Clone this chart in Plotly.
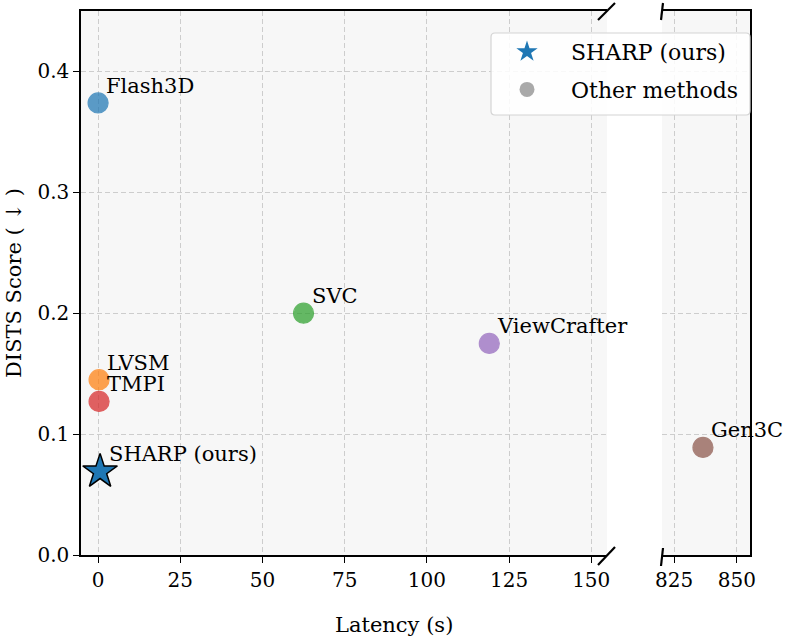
import plotly.graph_objects as go

# ---- data ----
methods = ["Flash3D", "LVSM", "SVC", "TMPI", "ViewCrafter", "Gen3C"]
latency = [0.0, 0.3, 62.5, 0.3, 119.0, 836.5]
dists = [0.374, 0.145, 0.200, 0.127, 0.175, 0.089]
ours_name = "SHARP (ours)"
ours_latency = [0.6]
ours_dists = [0.069]
legend_labels = ["SHARP (ours)", "Other methods"]
x_ticks_left = [0, 25, 50, 75, 100, 125, 150]
x_ticks_right = [825, 850]
y_ticks = [0.0, 0.1, 0.2, 0.3, 0.4]

# ---- style ----
colors = ["#1f77b4", "#ff7f0e", "#2ca02c", "#d62728", "#9467bd", "#8c564b"]
FONT = "DejaVu Serif"
W, H = 791, 641
ML, MR, MT, MB = 81, 41, 11, 86
PW = W - ML - MR
PH = H - MT - MB
def px_x(p):  # figure pixel -> paper x
    return (p - ML) / PW
def px_y(p):
    return 1 - (p - MT) / PH

LEFT_END = px_x(607)
RIGHT_START = px_x(662)

fig = go.Figure()

def axis_for(x):
    return ("x", "y") if x < 500 else ("x2", "y2")

for m, x, y, c in zip(methods, latency, dists, colors):
    xa, ya = axis_for(x)
    fig.add_trace(go.Scatter(
        x=[x], y=[y], mode="markers", xaxis=xa, yaxis=ya, showlegend=False,
        marker=dict(size=20, color=c, opacity=0.72, line=dict(color=c, width=1.2)),
        cliponaxis=False, name=m))
    fig.add_annotation(x=x, y=y, xref=xa, yref=ya, text=m, showarrow=False,
                       xanchor="left", yanchor="bottom", xshift=6, yshift=3,
                       font=dict(family=FONT, size=21, color="black"))

fig.add_trace(go.Scatter(
    x=ours_latency, y=ours_dists, mode="markers", xaxis="x", yaxis="y", showlegend=False,
    marker=dict(symbol="star", size=26, color="#1f77b4", line=dict(color="black", width=1.5)),
    cliponaxis=False, name=ours_name))
fig.add_annotation(x=ours_latency[0], y=ours_dists[0], xref="x", yref="y", text=ours_name,
                   showarrow=False, xanchor="left", yanchor="bottom", xshift=7, yshift=4,
                   font=dict(family=FONT, size=21, color="black"))

# legend-only traces
fig.add_trace(go.Scatter(x=[None], y=[None], mode="markers", name=legend_labels[0],
                         legendgroup="a",
                         marker=dict(symbol="star", size=16, color="#1f77b4")))
fig.add_trace(go.Scatter(x=[None], y=[None], mode="markers", name=legend_labels[1],
                         legendgroup="b",
                         marker=dict(symbol="circle", size=15, color="#a9a9a9")))

grid = dict(showgrid=True, gridcolor="#cdcdcd", griddash="5px,3px", gridwidth=1)
tickf = dict(family=FONT, size=20, color="black")
common_x = dict(showline=True, linecolor="black", linewidth=1.5, mirror=True,
                ticks="outside", ticklen=6, tickcolor="black", tickwidth=1.2,
                tickfont=tickf, zeroline=False, **grid)

fig.update_layout(
    width=W, height=H,
    margin=dict(l=ML, r=MR, t=MT, b=MB, autoexpand=False),
    paper_bgcolor="white", plot_bgcolor="#f7f7f7",
    font=dict(family=FONT, color="black"),
    xaxis=dict(domain=[0, LEFT_END], range=[-5.2, 154.8], tickvals=x_ticks_left,
               anchor="y", **common_x),
    xaxis2=dict(domain=[RIGHT_START, 1], range=[820.2, 855.2], tickvals=x_ticks_right,
                anchor="y2", **common_x),
    yaxis=dict(domain=[0, 1], range=[0, 0.45], tickvals=y_ticks, tickformat=".1f",
               showline=True, linecolor="black", linewidth=1.5, mirror=False,
               ticks="outside", ticklen=6, tickcolor="black", tickwidth=1.2,
               tickfont=tickf, zeroline=False, anchor="x", **grid),
    yaxis2=dict(domain=[0, 1], range=[0, 0.45], tickvals=y_ticks, matches="y",
                showline=True, linecolor="black", linewidth=1.5, side="right",
                showticklabels=False, ticks="", zeroline=False, anchor="x2", **grid),
    showlegend=True,
    legend=dict(x=px_x(483), y=px_y(31), xanchor="left", yanchor="top",
                bgcolor="rgba(0,0,0,0)", borderwidth=0,
                font=dict(family=FONT, size=22, color="black"), itemsizing="trace",
                itemwidth=78, traceorder="grouped", tracegroupgap=6),
)

# legend frame (rounded rectangle) drawn as a shape in paper coordinates
bx0, bx1, by0, by1, r = 491, 750, 33, 115, 4
rx = r / PW
ry = r / PH
X0, X1, Y0, Y1 = px_x(bx0), px_x(bx1), px_y(by1), px_y(by0)
path = (f"M {X0+rx},{Y0} L {X1-rx},{Y0} Q {X1},{Y0} {X1},{Y0+ry} "
        f"L {X1},{Y1-ry} Q {X1},{Y1} {X1-rx},{Y1} L {X0+rx},{Y1} "
        f"Q {X0},{Y1} {X0},{Y1-ry} L {X0},{Y0+ry} Q {X0},{Y0} {X0+rx},{Y0} Z")
fig.add_shape(type="path", path=path, xref="paper", yref="paper", layer="above",
              fillcolor="rgba(255,255,255,0.85)", line=dict(color="#d4d4d4", width=1.2))

# axis titles
fig.add_annotation(text="Latency (s)", xref="paper", yref="paper",
                   x=px_x(394), y=px_y(625), xanchor="center", yanchor="middle",
                   showarrow=False, font=dict(family=FONT, size=21, color="black"))
fig.add_annotation(text="DISTS Score ( ↓ )", xref="paper", yref="paper",
                   x=px_x(14), y=px_y(283), xanchor="center", yanchor="middle",
                   showarrow=False, textangle=-90,
                   font=dict(family=FONT, size=21, color="black"))

# break marks
for (x0, y0, x1, y1) in [(598, 20, 615, 3), (598, 565, 615, 547),
                         (661, 20, 663, 3), (661, 566, 663, 548)]:
    fig.add_shape(type="line", xref="paper", yref="paper",
                  x0=px_x(x0), y0=px_y(y0), x1=px_x(x1), y1=px_y(y1),
                  line=dict(color="black", width=2.2))

fig.write_html("out.html", config={"displayModeBar": False},
               post_script="document.body.style.margin='0px';")
